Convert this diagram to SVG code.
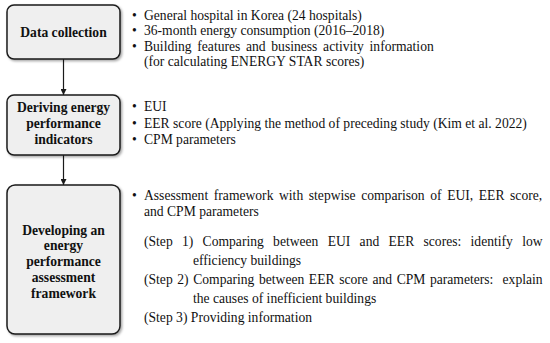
<svg xmlns="http://www.w3.org/2000/svg" width="550" height="343" viewBox="0 0 550 343">
  <style>
    .box { fill: #efefef; stroke: #1a1a1a; stroke-width: 1.5; filter: url(#sh); }
    .lbl { font-family: "Liberation Serif", "Times New Roman", serif; font-size: 13.6px; font-weight: bold; fill: #111; text-anchor: middle; }
    .txt { font-family: "Liberation Serif", "Times New Roman", serif; font-size: 13.6px; fill: #111; }
    .conn { stroke: #1a1a1a; stroke-width: 1.2; fill: none; }
  </style>
  <defs>
    <filter id="sh" x="-10%" y="-10%" width="125%" height="125%">
      <feDropShadow dx="1.5" dy="1.5" stdDeviation="1" flood-color="#000" flood-opacity="0.35"/>
    </filter>
    <marker id="ah" viewBox="0 0 10 10" refX="10" refY="5" markerWidth="6" markerHeight="6" markerUnits="userSpaceOnUse" orient="auto">
      <path d="M0,0 L10,5 L0,10 Z" fill="#1a1a1a"/>
    </marker>
  </defs>
  <rect width="550" height="343" fill="#fff"/>

  <g id="connectors">
    <line class="conn" x1="63.5" y1="59" x2="63.5" y2="95" marker-end="url(#ah)"/>
    <line class="conn" x1="63.5" y1="155" x2="63.5" y2="185" marker-end="url(#ah)"/>
  </g>

  <g id="node-data-collection">
    <rect class="box" x="7" y="5" width="113" height="54" rx="7"/>
    <text class="lbl" x="63.5" y="37">Data collection</text>
  </g>

  <g id="node-deriving">
    <rect class="box" x="7" y="95" width="113" height="60" rx="7"/>
    <text class="lbl" x="63.5" y="111.5">Deriving energy</text>
    <text class="lbl" x="63.5" y="127.5">performance</text>
    <text class="lbl" x="63.5" y="143.5">indicators</text>
  </g>

  <g id="node-developing">
    <rect class="box" x="7" y="185" width="113" height="149" rx="8"/>
    <text class="lbl" x="63.5" y="234.5">Developing an</text>
    <text class="lbl" x="63.5" y="250">energy</text>
    <text class="lbl" x="63.5" y="265.5">performance</text>
    <text class="lbl" x="63.5" y="281.5">assessment</text>
    <text class="lbl" x="63.5" y="297.5">framework</text>
  </g>

  <g id="text-data-collection">
    <text class="txt" x="132" y="19.5">•</text>
    <text class="txt" x="144" y="19.5">General hospital in Korea (24 hospitals)</text>
    <text class="txt" x="132" y="35">•</text>
    <text class="txt" x="144" y="35">36-month energy consumption (2016–2018)</text>
    <text class="txt" x="132" y="50.5">•</text>
    <text class="txt" x="144" y="50.5" word-spacing="2.3">Building features and business activity information</text>
    <text class="txt" x="144" y="66">(for calculating ENERGY STAR scores)</text>
  </g>

  <g id="text-deriving">
    <text class="txt" x="132" y="111">•</text>
    <text class="txt" x="144" y="111">EUI</text>
    <text class="txt" x="132" y="127.5">•</text>
    <text class="txt" x="144" y="127.5">EER score (Applying the method of preceding study (Kim et al. 2022)</text>
    <text class="txt" x="132" y="144">•</text>
    <text class="txt" x="144" y="144">CPM parameters</text>
  </g>

  <g id="text-developing">
    <text class="txt" x="132" y="200">•</text>
    <text class="txt" x="144" y="200" word-spacing="2.2">Assessment framework with stepwise comparison of EUI, EER score,</text>
    <text class="txt" x="144" y="216">and CPM parameters</text>
    <text class="txt" x="144" y="245.5" word-spacing="5.9">(Step 1) Comparing between EUI and EER scores: identify low</text>
    <text class="txt" x="193" y="264.5">efficiency buildings</text>
    <text class="txt" x="144" y="283.5" word-spacing="1.2">(Step 2) Comparing between EER score and CPM parameters: <tspan dx="4.6">explain</tspan></text>
    <text class="txt" x="193" y="303">the causes of inefficient buildings</text>
    <text class="txt" x="144" y="322">(Step 3) Providing information</text>
  </g>
</svg>
